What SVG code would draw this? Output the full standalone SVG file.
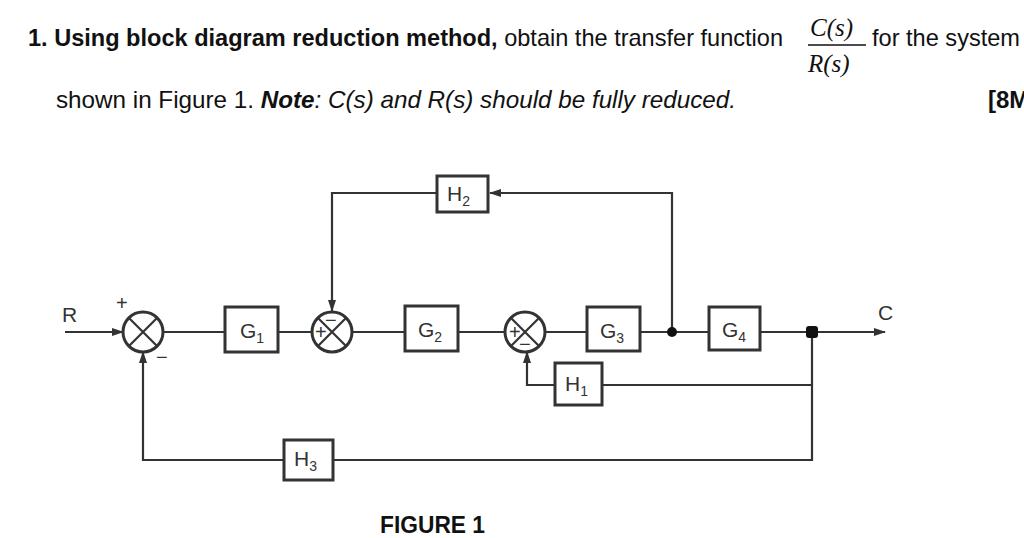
<svg xmlns="http://www.w3.org/2000/svg" width="1024" height="538" viewBox="0 0 1024 538">
<style>
.t{font-family:"Liberation Sans",Arial,sans-serif;font-size:24px;fill:#111}
.b{font-weight:bold}
.i{font-style:italic}
.f{font-family:"Liberation Serif",serif;font-style:italic;font-size:25px;fill:#111}
.box{fill:#fff;stroke:#333;stroke-width:3}
.lbl{font-family:"Liberation Sans",Arial,sans-serif;font-size:21px;fill:#333}
.sub{font-size:14px}
.ln{fill:none;stroke:#333;stroke-width:2.2}
.sum{fill:#fff;stroke:#333;stroke-width:3}
.sg{font-family:"Liberation Sans",Arial,sans-serif;font-size:20px;fill:#333}
</style>
<defs><marker id="a" markerWidth="12" markerHeight="8" refX="11" refY="4" orient="auto" markerUnits="userSpaceOnUse"><path d="M0,0 L12,4 L0,8 Z" fill="#333"/></marker></defs>
<rect width="1024" height="538" fill="#fff"/>
<text class="t" x="28" y="46" textLength="755" lengthAdjust="spacingAndGlyphs"><tspan class="b">1. Using block diagram reduction method,</tspan> obtain the transfer function</text>
<text class="f" x="810" y="36">C(s)</text>
<line x1="808" y1="45" x2="866" y2="45" stroke="#111" stroke-width="1.5"/>
<text class="f" x="808" y="72">R(s)</text>
<text class="t" x="872" y="46" textLength="148" lengthAdjust="spacingAndGlyphs">for the system</text>
<text class="t" x="56" y="108" textLength="680" lengthAdjust="spacingAndGlyphs">shown in Figure 1.   <tspan class="b i">Note</tspan><tspan class="i">: C(s) and R(s) should be fully reduced.</tspan></text>
<text class="t b" x="988" y="108">[8M</text>
<g id="connectors">
<path class="ln" d="M65,332 H123" marker-end="url(#a)"/>
<path class="ln" d="M163,332 H225 M278,332 H312 M352,332 H405 M458,332 H505 M545,332 H587 M640,332 H709 M760,332 H812"/>
<path class="ln" d="M812,332 H885" marker-end="url(#a)"/>
<path class="ln" d="M672,332 V193 H490" marker-end="url(#a)"/>
<path class="ln" d="M437,193 H332 V311" marker-end="url(#a)"/>
<path class="ln" d="M812,332 V460 H333"/>
<path class="ln" d="M284,460 H143 V352" marker-end="url(#a)"/>
<path class="ln" d="M812,385 H602"/>
<path class="ln" d="M555,385 H527 V352" marker-end="url(#a)"/>
<circle cx="672" cy="332" r="5" fill="#111"/>
<rect x="806" y="326" width="12" height="12" rx="3" fill="#111"/>
</g>
<text class="lbl" x="62" y="322">R</text>
<text class="lbl" x="878" y="320">C</text>
<g id="sum1"><circle class="sum" cx="143" cy="332" r="20"/><path class="ln" d="M129,318 L157,346 M157,318 L129,346"/><text class="sg" x="116" y="310">+</text><text class="sg" x="156" y="364">−</text></g>
<g id="G1"><rect class="box" x="225" y="307" width="53" height="45"/><text class="lbl" x="240" y="338">G<tspan class="sub" dy="5">1</tspan></text></g>
<g id="sum2"><circle class="sum" cx="332" cy="332" r="20"/><path class="ln" d="M318,318 L346,346 M346,318 L318,346"/><text class="sg" x="325" y="327">−</text><text class="sg" x="315" y="339">+</text></g>
<g id="G2"><rect class="box" x="405" y="306" width="53" height="45"/><text class="lbl" x="418" y="337">G<tspan class="sub" dy="5">2</tspan></text></g>
<g id="sum3"><circle class="sum" cx="525" cy="332" r="20"/><path class="ln" d="M511,318 L539,346 M539,318 L511,346"/><text class="sg" x="509" y="339">+</text><text class="sg" x="519" y="351">−</text></g>
<g id="G3"><rect class="box" x="587" y="307" width="53" height="44"/><text class="lbl" x="600" y="338">G<tspan class="sub" dy="5">3</tspan></text></g>
<g id="G4"><rect class="box" x="709" y="307" width="51" height="43"/><text class="lbl" x="722" y="337">G<tspan class="sub" dy="5">4</tspan></text></g>
<g id="H1"><rect class="box" x="555" y="363" width="47" height="42"/><text class="lbl" x="565" y="391">H<tspan class="sub" dy="5">1</tspan></text></g>
<g id="H2"><rect class="box" x="437" y="176" width="51" height="36"/><text class="lbl" x="447" y="201">H<tspan class="sub" dy="5">2</tspan></text></g>
<g id="H3"><rect class="box" x="284" y="440" width="49" height="40"/><text class="lbl" x="294" y="466">H<tspan class="sub" dy="5">3</tspan></text></g>
<text class="t b" x="380" y="533" textLength="105" lengthAdjust="spacingAndGlyphs">FIGURE 1</text>
</svg>
